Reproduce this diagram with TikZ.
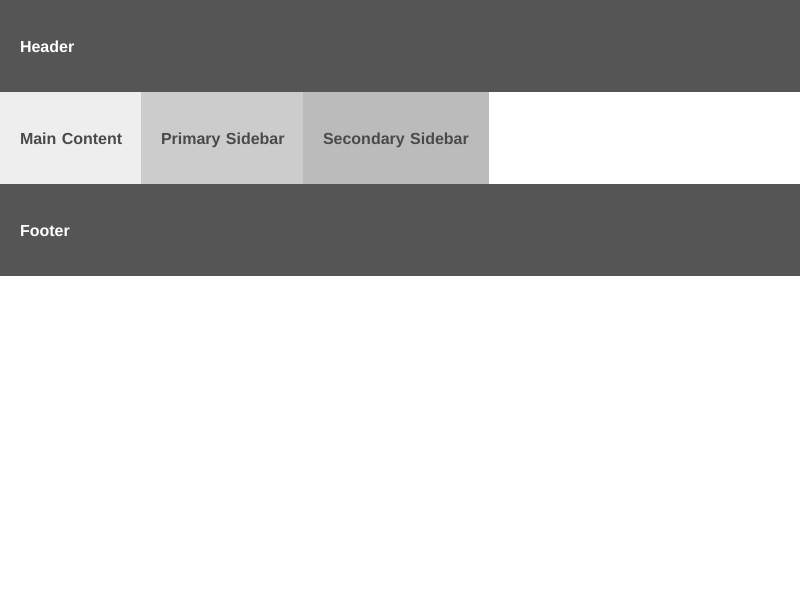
\documentclass[tikz,border=0pt]{standalone}
\usetikzlibrary{positioning}
\usepackage{xcolor}
\usepackage{fontspec}
\setmainfont{Liberation Sans}
\definecolor{bardark}{HTML}{555555}
\definecolor{maingray}{HTML}{EEEEEE}
\definecolor{primgray}{HTML}{CCCCCC}
\definecolor{secgray}{HTML}{BBBBBB}
\definecolor{textgray}{HTML}{4A4A4A}

\begin{document}
\begin{tikzpicture}[x=1pt,y=1pt,node distance=0pt]
    \tikzstyle{block}=[rectangle, inner xsep=20pt, inner ysep=0pt, minimum height=92pt, text height=12pt, text depth=0pt, align=left, font=\fontsize{16}{19}\selectfont\bfseries, outer sep=0pt]
    \tikzstyle{bar}=[block, fill=bardark, text=white, text width=760pt]
    \tikzstyle{column}=[block, text=textgray]

    \useasboundingbox (0,0) rectangle (800,-600);

    \node[bar, anchor=north west] (header) at (0,0) {Header};
    \node[column, fill=maingray, text width=101pt, below right=0pt and 0pt of header.south west] (main) {\mbox{Main Content}};
    \node[column, fill=primgray, text width=122pt, right=of main] (primary) {\mbox{Primary Sidebar}};
    \node[column, fill=secgray, text width=146pt, right=of primary] (secondary) {\mbox{Secondary Sidebar}};
    \node[bar, below right=0pt and 0pt of main.south west] (footer) {Footer};
\end{tikzpicture}
\end{document}
